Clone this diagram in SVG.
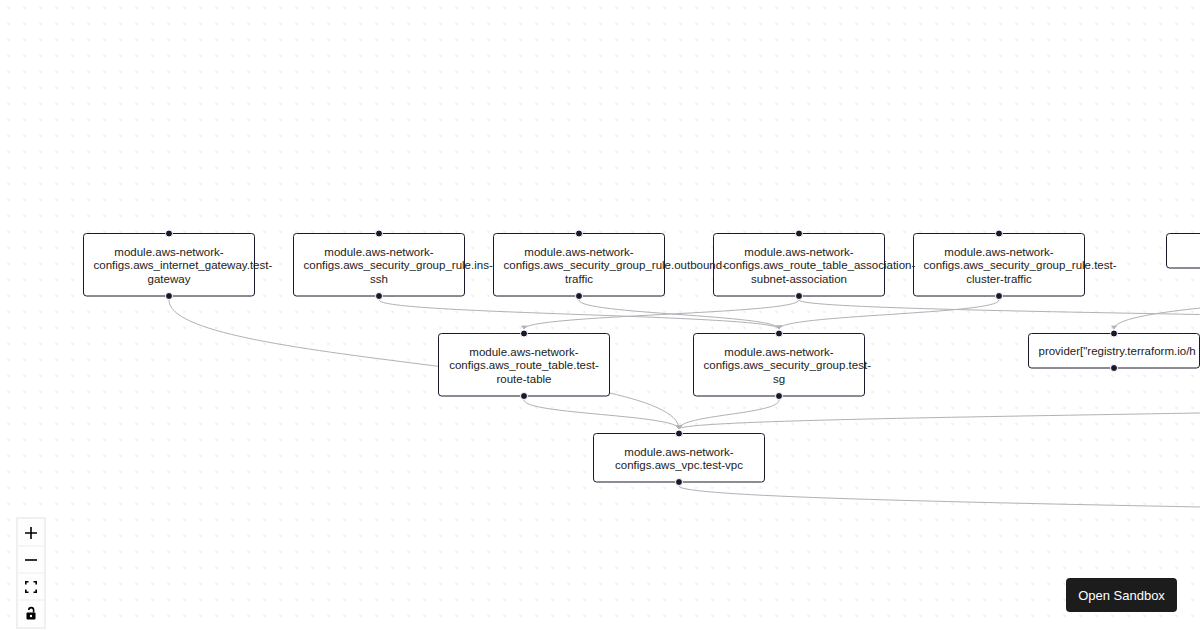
<svg xmlns="http://www.w3.org/2000/svg" width="1200" height="630" viewBox="0 0 1200 630">
<defs>
<style>
.node rect{fill:#fff;stroke:#1a192b;stroke-width:1}
.node text{font-family:"Liberation Sans",Arial,sans-serif;font-size:11.5px;fill:#222}
.c{text-anchor:middle}
.h{fill:#1a192b;stroke:#fff;stroke-width:1}
.edge{fill:none;stroke:#b1b1b7;stroke-width:1;marker-end:url(#arrow)}
.ico{fill:none;stroke:#000;stroke-width:1.6}
</style>
<pattern id="dots" width="16" height="16" patternUnits="userSpaceOnUse" x="0.3" y="-0.3">
<circle cx="8" cy="8" r="0.6" fill="#a6a6ae"/>
</pattern>
<marker id="arrow" viewBox="-10 -10 20 20" markerWidth="12.5" markerHeight="12.5" refX="0" refY="0" orient="auto-start-reverse" markerUnits="strokeWidth">
<polyline points="-5,-4 0,0 -5,4 -5,-4" fill="#b1b1b7" stroke="#b1b1b7" stroke-linecap="round" stroke-linejoin="round" stroke-width="1"/>
</marker>
</defs>
<rect width="1200" height="630" fill="#fff"/>
<rect width="1200" height="630" fill="url(#dots)"/>

<g id="connectors">
<path class="edge" d="M169,300 C169,364.5 679,364.5 679,429"/>
<path class="edge" d="M379,300 C379,314.5 779,314.5 779,329"/>
<path class="edge" d="M579,300 C579,314.5 779,314.5 779,329"/>
<path class="edge" d="M799,300 C799,314.5 524,314.5 524,329"/>
<path class="edge" d="M799,300 C799,314.5 1600,314.5 1600,329"/>
<path class="edge" d="M999,300 C999,314.5 779,314.5 779,329"/>
<path class="edge" d="M1451,272 C1451,300.5 1114,300.5 1114,329"/>
<path class="edge" d="M524,400 C524,414.5 679,414.5 679,429"/>
<path class="edge" d="M779,400 C779,414.5 679,414.5 679,429"/>
<path class="edge" d="M1541,400 C1541,414.5 679,414.5 679,429"/>
<path class="edge" d="M679,486 C679,507.5 1773,507.5 1773,529"/>
</g>

<g id="node-subnet-offscreen" class="node">
<rect x="1166.5" y="233.5" width="171" height="34.5" rx="3"/>
<circle class="h" cx="1252" cy="233.5" r="3.5"/>
<circle class="h" cx="1252" cy="268" r="3.5"/>
</g>

<g id="node-cluster-traffic" class="node">
<rect x="913.5" y="233.5" width="171" height="62.5" rx="3"/>
<text class="c" x="999" y="255.7">module.aws-network-</text>
<text x="923.5" y="269.4">configs.aws_security_group_rule.test-</text>
<text class="c" x="999" y="283.1">cluster-traffic</text>
<circle class="h" cx="999" cy="233.5" r="3.5"/>
<circle class="h" cx="999" cy="296" r="3.5"/>
</g>

<g id="node-route-table-association" class="node">
<rect x="713.5" y="233.5" width="171" height="62.5" rx="3"/>
<text class="c" x="799" y="255.7">module.aws-network-</text>
<text x="723.5" y="269.4">configs.aws_route_table_association-</text>
<text class="c" x="799" y="283.1">subnet-association</text>
<circle class="h" cx="799" cy="233.5" r="3.5"/>
<circle class="h" cx="799" cy="296" r="3.5"/>
</g>

<g id="node-outbound-traffic" class="node">
<rect x="493.5" y="233.5" width="171" height="62.5" rx="3"/>
<text class="c" x="579" y="255.7">module.aws-network-</text>
<text x="503.5" y="269.4">configs.aws_security_group_rule.outbound-</text>
<text class="c" x="579" y="283.1">traffic</text>
<circle class="h" cx="579" cy="233.5" r="3.5"/>
<circle class="h" cx="579" cy="296" r="3.5"/>
</g>

<g id="node-ins-ssh" class="node">
<rect x="293.5" y="233.5" width="171" height="62.5" rx="3"/>
<text class="c" x="379" y="255.7">module.aws-network-</text>
<text x="303.5" y="269.4">configs.aws_security_group_rule.ins-</text>
<text class="c" x="379" y="283.1">ssh</text>
<circle class="h" cx="379" cy="233.5" r="3.5"/>
<circle class="h" cx="379" cy="296" r="3.5"/>
</g>

<g id="node-internet-gateway" class="node">
<rect x="83.5" y="233.5" width="171" height="62.5" rx="3"/>
<text class="c" x="169" y="255.7">module.aws-network-</text>
<text x="93.5" y="269.4">configs.aws_internet_gateway.test-</text>
<text class="c" x="169" y="283.1">gateway</text>
<circle class="h" cx="169" cy="233.5" r="3.5"/>
<circle class="h" cx="169" cy="296" r="3.5"/>
</g>

<g id="node-route-table" class="node">
<rect x="438.5" y="333.5" width="171" height="62.5" rx="3"/>
<text class="c" x="524" y="355.7">module.aws-network-</text>
<text class="c" x="524" y="369.4">configs.aws_route_table.test-</text>
<text class="c" x="524" y="383.1">route-table</text>
<circle class="h" cx="524" cy="333.5" r="3.5"/>
<circle class="h" cx="524" cy="396" r="3.5"/>
</g>

<g id="node-security-group" class="node">
<rect x="693.5" y="333.5" width="171" height="62.5" rx="3"/>
<text class="c" x="779" y="355.7">module.aws-network-</text>
<text x="703.5" y="369.4">configs.aws_security_group.test-</text>
<text class="c" x="779" y="383.1">sg</text>
<circle class="h" cx="779" cy="333.5" r="3.5"/>
<circle class="h" cx="779" cy="396" r="3.5"/>
</g>

<g id="node-provider" class="node">
<rect x="1028.5" y="333.5" width="171" height="34.5" rx="3"/>
<text x="1038.5" y="355.3">provider["registry.terraform.io/h</text>
<circle class="h" cx="1114" cy="333.5" r="3.5"/>
<circle class="h" cx="1114" cy="368" r="3.5"/>
</g>

<g id="node-vpc" class="node">
<rect x="593.5" y="433.5" width="171" height="48.5" rx="3"/>
<text class="c" x="679" y="455.7">module.aws-network-</text>
<text class="c" x="679" y="469.4">configs.aws_vpc.test-vpc</text>
<circle class="h" cx="679" cy="433.5" r="3.5"/>
<circle class="h" cx="679" cy="482" r="3.5"/>
</g>

<g id="controls">
<rect x="17" y="518" width="28" height="110" fill="none" stroke="#000" stroke-opacity="0.06" stroke-width="2"/>
<rect x="18" y="519" width="26" height="108" fill="#fefefe"/>
<line x1="18" y1="546" x2="44" y2="546" stroke="#eee"/>
<line x1="18" y1="573" x2="44" y2="573" stroke="#eee"/>
<line x1="18" y1="600" x2="44" y2="600" stroke="#eee"/>
<path class="ico" d="M25,533 H37 M31,527 V539"/>
<path class="ico" d="M25,560 H37"/>
<path class="ico" d="M25.8,584.5 V581.8 H28.5 M33.5,581.8 H36.2 V584.5 M36.2,589.5 V592.2 H33.5 M28.5,592.2 H25.8 V589.5"/>
<path class="ico" d="M33.6,612.5 V610 a2.4,2.4 0 0 0 -4.8,0" stroke-width="1.5"/>
<rect x="26.5" y="612.5" width="9" height="7" rx="1" fill="#000"/>
<circle cx="31" cy="616" r="1.2" fill="#fff"/>
</g>

<g id="open-sandbox">
<rect x="1066" y="578" width="111" height="34" rx="4" fill="#1c1c1c"/>
<text x="1121.5" y="599.5" text-anchor="middle" font-family="'Liberation Sans',Arial,sans-serif" font-size="13px" fill="#fff">Open Sandbox</text>
</g>
</svg>
